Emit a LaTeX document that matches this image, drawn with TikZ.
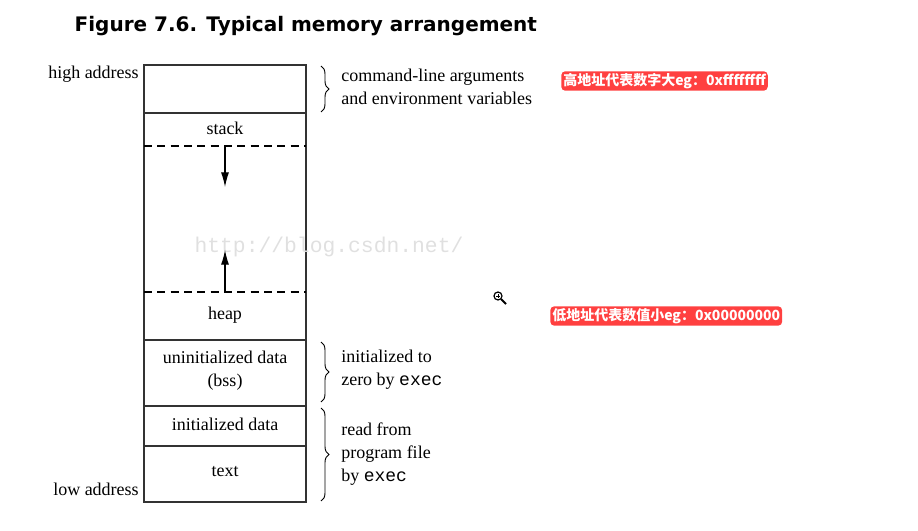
\documentclass[tikz,border=0pt]{standalone}
\usepackage{fontspec}
\setmainfont{Liberation Serif}
\setmonofont{Liberation Mono}
\newfontfamily\titlefont{DejaVu Sans}
\newfontfamily\cjk{Noto Sans CJK SC}
\usetikzlibrary{decorations.pathreplacing,arrows.meta}
\begin{document}
\begin{tikzpicture}[x=0.75pt,y=-0.75pt,
  lbl/.style={font=\fontsize{13.5pt}{17pt}\selectfont, inner sep=0pt},
  side/.style={lbl, anchor=west, align=left},
  box/.style={line width=0.8pt, draw=black!80},
  dashline/.style={line width=0.8pt, dash pattern=on 6pt off 4pt},
  brace/.style={decorate, decoration={brace, amplitude=6pt}, line width=0.7pt},
  redlbl/.style={fill=red!75, text=white, rounded corners=3pt, inner sep=1.5pt, font=\cjk\bfseries\fontsize{10.5pt}{12pt}\selectfont, anchor=west},
  arr/.style={-{Latex[length=11pt,width=6pt]}, line width=0.8pt}]
\useasboundingbox (0,0) rectangle (918,531);
\node[anchor=west, font=\titlefont\bfseries\fontsize{15pt}{17pt}\selectfont] (title) at (70,26) {Figure 7.6. Typical memory arrangement};
\draw[box] (144,65) rectangle (306,502);
\foreach \y in {113,340,406,446} \draw[box] (144,\y) -- (306,\y);
\draw[dashline] (144,146) -- (306,146);
\draw[dashline] (144,292) -- (306,292);
\node[text=black!12, font=\ttfamily\fontsize{16pt}{18pt}\selectfont] (wm) at (329,247) {http://blog.csdn.net/};
\node[lbl] (stack) at (225,128) {stack};
\node[lbl] (heap) at (225,315) {heap};
\node[lbl, align=center] (bss) at (225,371) {uninitialized data\\(bss)};
\node[lbl] (init) at (225,424) {initialized data};
\node[lbl] (text) at (225,472) {text};
\coordinate (s0) at (225,146); \coordinate (s1) at (225,187);
\coordinate (h0) at (225,292); \coordinate (h1) at (225,250);
\draw[arr] (s0) -- (s1);
\draw[arr] (h0) -- (h1);
\node[lbl, anchor=east] (high) at (139,74) {high address};
\node[lbl, anchor=east] (low) at (139,489) {low address};
\draw[brace] (321,66) -- (321,112);
\draw[brace] (321,342) -- (321,402);
\draw[brace] (321,408) -- (321,501);
\node[side] (cl) at (341,87) {command-line arguments\\and environment variables};
\node[side] (iz) at (341,370) {initialized to\\zero by \texttt{exec}};
\node[side] (rf) at (341,454) {read from\\program file\\by \texttt{exec}};
\node[redlbl] (r1) at (561,81) {高地址代表数字大eg：0xffffffff};
\node[redlbl] (r2) at (550,316) {低地址代表数值小eg：0x00000000};
\draw[line width=0.9pt] (498,296) circle (4);
\draw[line width=1.4pt] (501,299) -- (506,304);
\draw[line width=0.7pt] (496,296) -- (500,296) (498,294) -- (498,298);
\end{tikzpicture}
\end{document}
